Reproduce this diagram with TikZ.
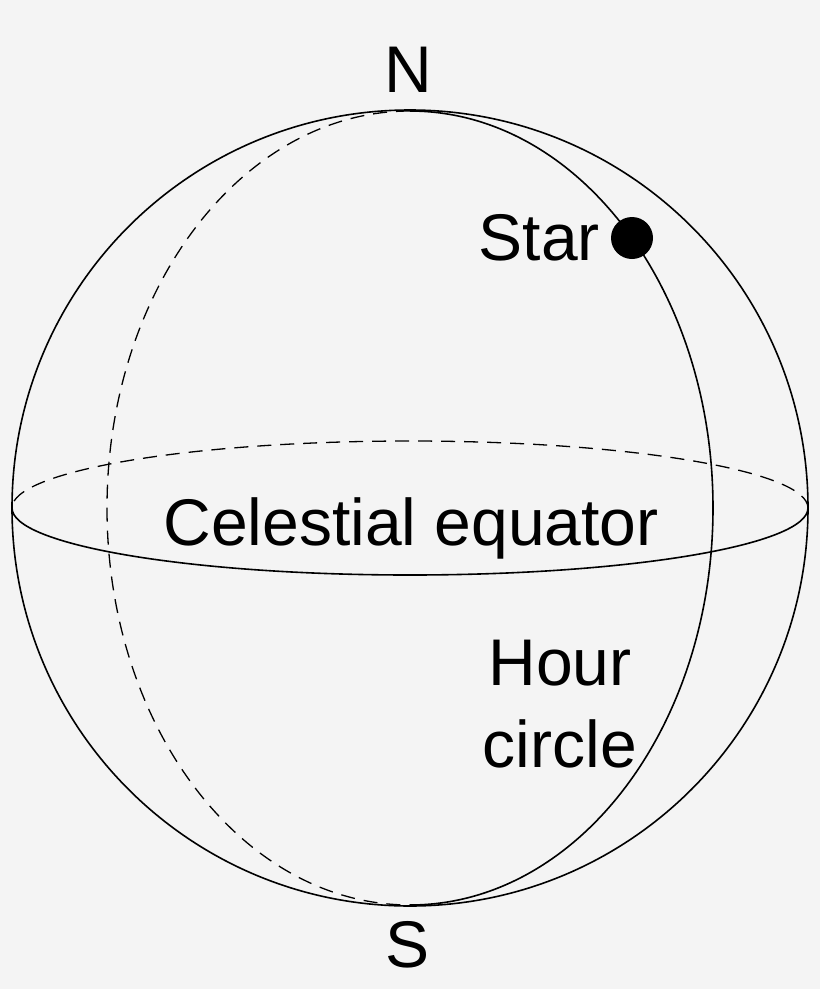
\documentclass[tikz,border=0pt]{standalone}
\usepackage{fontspec}
\setmainfont{Liberation Sans}
\begin{document}
\begin{tikzpicture}[x=1pt,y=-1pt,
  line/.style={line width=1.6pt,black},
  dline/.style={line width=1.3pt,black,dash pattern=on 14pt off 9pt},
  lbl/.style={font=\fontsize{66}{82}\selectfont,inner sep=0pt,align=center}]
\fill[fill={rgb,255:red,244;green,244;blue,244}] (0,0) rectangle (820,989);
\useasboundingbox (0,0) rectangle (820,989);
\coordinate (O) at (410,508);
% sphere
\draw[line] (O) circle[radius=398];
% equator
\draw[dline] (808,508) arc[start angle=360,end angle=180,x radius=398,y radius=67];
\draw[line] (808,508) arc[start angle=0,end angle=180,x radius=398,y radius=67];
% hour circle
\draw[line] (410,111) arc[start angle=-90,end angle=90,x radius=303,y radius=397];
\draw[dline] (410,111) arc[start angle=270,end angle=90,x radius=303,y radius=397];
% labels
\node[lbl] (N) at (408,70) {N};
\node[lbl] (S) at (408,945) {S};
\node[lbl,anchor=east] (star) at (600,238) {Star};
\fill[black] (632,238) circle[radius=21];
\node[lbl] (eq) at (411,528) {Celestial equator};
\node[lbl] (hc) at (560,704) {Hour\\circle};
\end{tikzpicture}
\end{document}
